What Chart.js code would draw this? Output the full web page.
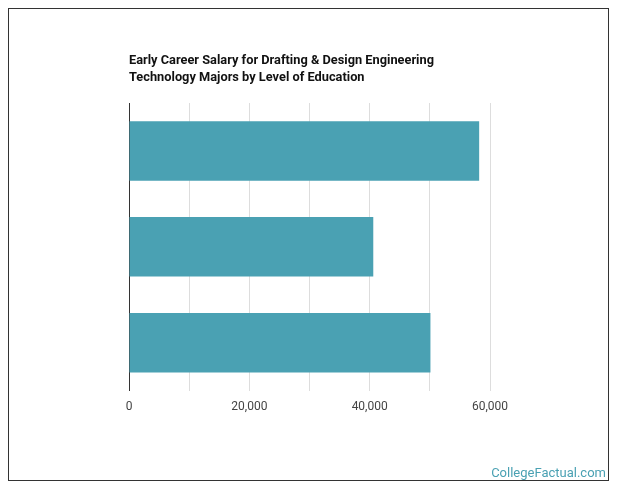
<!DOCTYPE html>
<html><head><script src="https://cdn.jsdelivr.net/npm/chart.js@4"></script>
<style>body{margin:0;width:620px;height:496px;position:relative;font-family:Roboto,sans-serif;background:#fff}
#box{position:absolute;left:8px;top:8px;width:601px;height:473px;border:1px solid #333;box-sizing:border-box}
#t{position:absolute;left:129px;top:51px;font-size:12.8px;font-weight:bold;color:#111;line-height:17px}
#w{position:absolute;right:14px;top:465px;font-size:13px;color:#4aa1b3}
canvas{position:absolute;left:0;top:0}</style></head><body>
<div id="box"></div>
<canvas id="c" width="620" height="496"></canvas>
<div id="t">Early Career Salary for Drafting &amp; Design Engineering<br>Technology Majors by Level of Education</div>
<div id="w">CollegeFactual.com</div>
<script>
const categories=["Certificate","Associate's","Bachelor's"];
const salaries=[58200,40600,50100];
new Chart(document.getElementById('c'),{type:'bar',data:{labels:categories,datasets:[{data:salaries,backgroundColor:'#4aa1b3',barPercentage:0.62,categoryPercentage:1}]},
options:{indexAxis:'y',responsive:false,animation:false,layout:{padding:{left:129,right:130,top:103,bottom:79}},
plugins:{legend:{display:false},tooltip:{enabled:false}},
scales:{x:{min:0,max:60000,ticks:{stepSize:10000,padding:3,color:'#444',font:{family:'Roboto',size:12},callback:v=>v%20000===0?v.toLocaleString('en-US'):''},grid:{color:'#ddd',drawTicks:true,tickLength:6,tickColor:'rgba(0,0,0,0)'},border:{display:false}},
y:{ticks:{display:false},grid:{display:false,drawTicks:false},border:{color:'#333'}}}}});
</script></body></html>
